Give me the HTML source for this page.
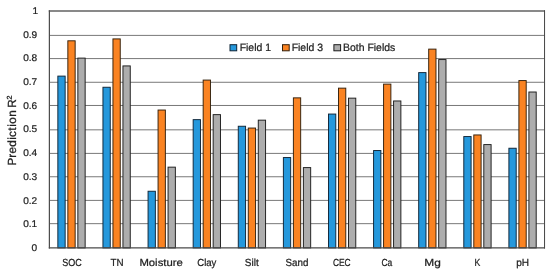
<!DOCTYPE html><html><head><meta charset="utf-8"><title>Prediction R2</title><style>html,body{margin:0;padding:0;background:#fff}svg{display:block}text{font-family:"Liberation Sans",sans-serif;fill:#222;text-rendering:geometricPrecision}</style></head><body>
<svg width="550" height="274" viewBox="0 0 550 274">
<rect width="550" height="274" fill="#fff"/>
<line x1="49.4" x2="544.5" y1="223.67" y2="223.67" stroke="#787878" stroke-width="1"/>
<line x1="49.4" x2="544.5" y1="200.40" y2="200.40" stroke="#787878" stroke-width="1"/>
<line x1="49.4" x2="544.5" y1="176.75" y2="176.75" stroke="#787878" stroke-width="1"/>
<line x1="49.4" x2="544.5" y1="153.40" y2="153.40" stroke="#787878" stroke-width="1"/>
<line x1="49.4" x2="544.5" y1="129.84" y2="129.84" stroke="#787878" stroke-width="1"/>
<line x1="49.4" x2="544.5" y1="105.47" y2="105.47" stroke="#787878" stroke-width="1"/>
<line x1="49.4" x2="544.5" y1="82.28" y2="82.28" stroke="#787878" stroke-width="1"/>
<line x1="49.4" x2="544.5" y1="58.58" y2="58.58" stroke="#787878" stroke-width="1"/>
<line x1="49.4" x2="544.5" y1="35.40" y2="35.40" stroke="#787878" stroke-width="1"/>
<rect x="57.85" y="76.11" width="7.3" height="171.79" fill="#2598dc" stroke="#0f2436" stroke-width="0.95"/>
<rect x="67.85" y="40.81" width="7.3" height="207.09" fill="#fa8322" stroke="#33200c" stroke-width="0.95"/>
<rect x="77.85" y="58.10" width="7.3" height="189.80" fill="#adadad" stroke="#1c1c1c" stroke-width="0.95"/>
<rect x="102.95" y="87.25" width="7.3" height="160.65" fill="#2598dc" stroke="#0f2436" stroke-width="0.95"/>
<rect x="112.95" y="38.91" width="7.3" height="208.99" fill="#fa8322" stroke="#33200c" stroke-width="0.95"/>
<rect x="122.95" y="65.92" width="7.3" height="181.98" fill="#adadad" stroke="#1c1c1c" stroke-width="0.95"/>
<rect x="148.06" y="191.25" width="7.3" height="56.65" fill="#2598dc" stroke="#0f2436" stroke-width="0.95"/>
<rect x="158.06" y="110.04" width="7.3" height="137.86" fill="#fa8322" stroke="#33200c" stroke-width="0.95"/>
<rect x="168.06" y="167.15" width="7.3" height="80.75" fill="#adadad" stroke="#1c1c1c" stroke-width="0.95"/>
<rect x="193.16" y="119.64" width="7.3" height="128.26" fill="#2598dc" stroke="#0f2436" stroke-width="0.95"/>
<rect x="203.16" y="80.07" width="7.3" height="167.83" fill="#fa8322" stroke="#33200c" stroke-width="0.95"/>
<rect x="213.16" y="114.64" width="7.3" height="133.26" fill="#adadad" stroke="#1c1c1c" stroke-width="0.95"/>
<rect x="238.27" y="126.25" width="7.3" height="121.65" fill="#2598dc" stroke="#0f2436" stroke-width="0.95"/>
<rect x="248.27" y="128.05" width="7.3" height="119.85" fill="#fa8322" stroke="#33200c" stroke-width="0.95"/>
<rect x="258.27" y="120.16" width="7.3" height="127.74" fill="#adadad" stroke="#1c1c1c" stroke-width="0.95"/>
<rect x="283.38" y="157.55" width="7.3" height="90.35" fill="#2598dc" stroke="#0f2436" stroke-width="0.95"/>
<rect x="293.38" y="97.86" width="7.3" height="150.04" fill="#fa8322" stroke="#33200c" stroke-width="0.95"/>
<rect x="303.38" y="167.60" width="7.3" height="80.30" fill="#adadad" stroke="#1c1c1c" stroke-width="0.95"/>
<rect x="328.48" y="114.05" width="7.3" height="133.85" fill="#2598dc" stroke="#0f2436" stroke-width="0.95"/>
<rect x="338.48" y="88.15" width="7.3" height="159.75" fill="#fa8322" stroke="#33200c" stroke-width="0.95"/>
<rect x="348.48" y="98.15" width="7.3" height="149.75" fill="#adadad" stroke="#1c1c1c" stroke-width="0.95"/>
<rect x="373.58" y="150.54" width="7.3" height="97.36" fill="#2598dc" stroke="#0f2436" stroke-width="0.95"/>
<rect x="383.58" y="84.12" width="7.3" height="163.78" fill="#fa8322" stroke="#33200c" stroke-width="0.95"/>
<rect x="393.58" y="100.97" width="7.3" height="146.93" fill="#adadad" stroke="#1c1c1c" stroke-width="0.95"/>
<rect x="418.69" y="72.61" width="7.3" height="175.29" fill="#2598dc" stroke="#0f2436" stroke-width="0.95"/>
<rect x="428.69" y="49.12" width="7.3" height="198.78" fill="#fa8322" stroke="#33200c" stroke-width="0.95"/>
<rect x="438.69" y="59.57" width="7.3" height="188.33" fill="#adadad" stroke="#1c1c1c" stroke-width="0.95"/>
<rect x="463.80" y="136.56" width="7.3" height="111.34" fill="#2598dc" stroke="#0f2436" stroke-width="0.95"/>
<rect x="473.80" y="134.95" width="7.3" height="112.95" fill="#fa8322" stroke="#33200c" stroke-width="0.95"/>
<rect x="483.80" y="144.59" width="7.3" height="103.31" fill="#adadad" stroke="#1c1c1c" stroke-width="0.95"/>
<rect x="508.90" y="148.24" width="7.3" height="99.66" fill="#2598dc" stroke="#0f2436" stroke-width="0.95"/>
<rect x="518.90" y="80.57" width="7.3" height="167.33" fill="#fa8322" stroke="#33200c" stroke-width="0.95"/>
<rect x="528.90" y="92.01" width="7.3" height="155.89" fill="#adadad" stroke="#1c1c1c" stroke-width="0.95"/>
<line x1="48.8" x2="545.0" y1="10.95" y2="10.95" stroke="#626262" stroke-width="1.35"/>
<line x1="48.8" x2="545.0" y1="247.85" y2="247.85" stroke="#4a4a4a" stroke-width="1.4"/>
<line x1="49.4" x2="49.4" y1="10.3" y2="248.5" stroke="#4d4d4d" stroke-width="1.25"/>
<line x1="544.55" x2="544.55" y1="10.3" y2="248.5" stroke="#444" stroke-width="1.0"/>
<text transform="translate(37.25 250.90) scale(1.012 0.975)" font-size="10" text-anchor="end" stroke="#222" stroke-width="0.22">0</text>
<text transform="translate(37.25 227.21) scale(1.012 0.975)" font-size="10" text-anchor="end" stroke="#222" stroke-width="0.22">0.1</text>
<text transform="translate(37.25 203.51) scale(1.012 0.975)" font-size="10" text-anchor="end" stroke="#222" stroke-width="0.22">0.2</text>
<text transform="translate(37.25 179.81) scale(1.012 0.975)" font-size="10" text-anchor="end" stroke="#222" stroke-width="0.22">0.3</text>
<text transform="translate(37.25 156.12) scale(1.012 0.975)" font-size="10" text-anchor="end" stroke="#222" stroke-width="0.22">0.4</text>
<text transform="translate(37.25 132.43) scale(1.012 0.975)" font-size="10" text-anchor="end" stroke="#222" stroke-width="0.22">0.5</text>
<text transform="translate(37.25 108.73) scale(1.012 0.975)" font-size="10" text-anchor="end" stroke="#222" stroke-width="0.22">0.6</text>
<text transform="translate(37.25 85.03) scale(1.012 0.975)" font-size="10" text-anchor="end" stroke="#222" stroke-width="0.22">0.7</text>
<text transform="translate(37.25 61.34) scale(1.012 0.975)" font-size="10" text-anchor="end" stroke="#222" stroke-width="0.22">0.8</text>
<text transform="translate(37.25 37.64) scale(1.012 0.975)" font-size="10" text-anchor="end" stroke="#222" stroke-width="0.22">0.9</text>
<text transform="translate(38.2 14.25) scale(1.012 0.975)" font-size="10" text-anchor="end" stroke="#222" stroke-width="0.22">1</text>
<text transform="translate(62.19 266.20) scale(0.9038 1.0250)" font-size="10" stroke="#222" stroke-width="0.22">SOC</text>
<text transform="translate(110.46 266.20) scale(0.9796 1.0250)" font-size="10" stroke="#222" stroke-width="0.22">TN</text>
<text transform="translate(139.39 266.20) scale(1.1321 1.0250)" font-size="10" stroke="#222" stroke-width="0.22">Moisture</text>
<text transform="translate(197.22 266.20) scale(0.9563 1.0250)" font-size="10" stroke="#222" stroke-width="0.22">Clay</text>
<text transform="translate(244.85 266.20) scale(1.0037 1.0250)" font-size="10" stroke="#222" stroke-width="0.22">Silt</text>
<text transform="translate(285.46 266.20) scale(0.9798 1.0250)" font-size="10" stroke="#222" stroke-width="0.22">Sand</text>
<text transform="translate(332.88 266.20) scale(0.8416 1.0250)" font-size="10" stroke="#222" stroke-width="0.22">CEC</text>
<text transform="translate(381.48 266.20) scale(0.8490 1.0250)" font-size="10" stroke="#222" stroke-width="0.22">Ca</text>
<text transform="translate(424.35 266.20) scale(1.1888 1.0250)" font-size="10" stroke="#222" stroke-width="0.22">Mg</text>
<text transform="translate(474.60 266.20) scale(0.8696 1.0250)" font-size="10" stroke="#222" stroke-width="0.22">K</text>
<text transform="translate(516.24 266.20) scale(1.0088 1.0250)" font-size="10" stroke="#222" stroke-width="0.22">pH</text>
<text transform="translate(15.55 164.89) rotate(-90) scale(1.177 1.177)" font-size="10" stroke="#222" stroke-width="0.22" x="-0.44 6.09 9.72 15.46 21.36 23.63 28.99 32.43 35.00 40.90 46.50 48.59 55.46" dy="0 0 0 0 0 0 0 0 0 0 0 0 -0.9">Prediction R²</text>
<rect x="230.0" y="44.7" width="6.7" height="6.1" fill="#2598dc" stroke="#0f2436" stroke-width="1"/>
<text transform="translate(239.66 51.10) scale(1.0453 1.0600)" font-size="10" stroke="#222" stroke-width="0.22">Field 1</text>
<rect x="282.5" y="44.7" width="6.7" height="6.1" fill="#fa8322" stroke="#33200c" stroke-width="1"/>
<text transform="translate(291.67 51.10) scale(1.0435 1.0600)" font-size="10" stroke="#222" stroke-width="0.22">Field 3</text>
<rect x="333.9" y="44.7" width="6.7" height="6.1" fill="#adadad" stroke="#1c1c1c" stroke-width="1"/>
<text transform="translate(343.07 51.10) scale(1.0429 1.0600)" font-size="10" stroke="#222" stroke-width="0.22">Both Fields</text>
</svg></body></html>
